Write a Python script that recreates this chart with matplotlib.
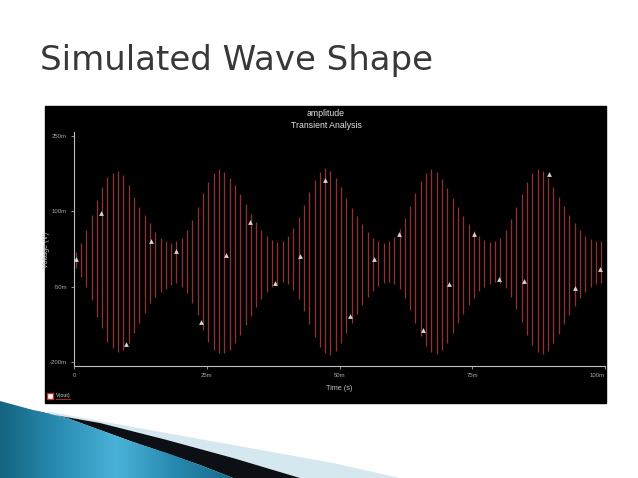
import numpy as np
import matplotlib
matplotlib.use('Agg')
from matplotlib import pyplot as plt
from matplotlib.patches import Polygon, Rectangle
from matplotlib.colors import LinearSegmentedColormap

# per carrier cycle (1 ms), peak and trough of the output voltage, in mV
upper_mv = [20, 36, 63, 93, 123, 149, 169, 177, 181, 172,
            152, 129, 109, 93, 76, 59, 46, 40, 36, 40,
            46, 63, 83, 109, 136, 159, 176, 184, 179, 166,
            152, 134, 114, 95, 78, 62, 50, 42, 38, 41,
            50, 66, 88, 112, 138, 162, 178, 186, 180, 166,
            148, 127, 107, 90, 74, 59, 47, 40, 37, 40,
            48, 64, 86, 110, 136, 160, 177, 184, 179, 165,
            147, 127, 108, 91, 75, 61, 50, 43, 39, 40,
            47, 62, 84, 108, 134, 158, 176, 184, 180, 167,
            149, 129, 110, 92, 76, 62, 51, 44, 40, 41]
lower_mv = [-12, -31, -50, -77, -110, -133, -160, -173, -180, -176,
            -163, -143, -123, -103, -83, -70, -60, -54, -47, -43,
            -50, -63, -83, -107, -136, -160, -176, -183, -183, -176,
            -163, -146, -127, -108, -90, -74, -60, -50, -44, -41,
            -45, -56, -75, -98, -124, -150, -170, -183, -186, -178,
            -162, -143, -123, -104, -87, -71, -58, -48, -42, -40,
            -44, -55, -73, -96, -122, -148, -168, -181, -184, -177,
            -162, -143, -123, -104, -87, -72, -59, -50, -44, -41,
            -43, -53, -71, -94, -120, -146, -167, -180, -184, -178,
            -163, -145, -125, -106, -89, -73, -60, -51, -45, -42]
cycle_ms = np.arange(len(upper_mv)) + 0.3

# trace markers (ms, mV)
marker_ms = [0.3, 5.0, 9.8, 14.5, 19.2, 23.9, 28.6, 33.2, 37.9, 42.5, 47.2,
             51.9, 56.5, 61.2, 65.8, 70.6, 75.3, 80.1, 84.8, 89.5, 94.4, 99.1]
marker_mv = [5, 96, -165, 41, 22, -121, 14, 79, -43, 12, 162,
             -109, 5, 55, -136, -45, 55, -35, -39, 175, -52, -15]

xticks = [0, 25, 50, 75, 100]
xticklabels = ['0', '25m', '50m', '75m', '100m']
yticks = [250, 100, -50, -200]
yticklabels = ['250m', '100m', '-50m', '-200m']

W, H = 638, 478
fig = plt.figure(figsize=(W / 100, H / 100), dpi=100, facecolor='white')

# slide background: title, black panel, swoosh
bg = fig.add_axes([0, 0, 1, 1])
bg.set_xlim(0, W)
bg.set_ylim(H, 0)
bg.axis('off')

bg.text(40, 70, 'Simulated Wave Shape', fontsize=24.5, color='#383838',
        family='DejaVu Sans', ha='left', va='baseline')

bg.add_patch(Rectangle((45, 106), 561, 297, color='black', zorder=1))

light = Polygon([(50, 412), (133, 427), (233, 445), (333, 463), (400, 478),
                 (300, 478), (233, 458), (167, 440), (100, 423), (43, 413)],
                closed=True, color='#d5e7ef', ec='none', zorder=1)
bg.add_patch(light)
dark = Polygon([(43, 413), (100, 423), (167, 440), (233, 458), (300, 478),
                (233, 478), (200, 465), (133, 442), (67, 418), (33, 410)],
               closed=True, color='#0c1014', ec='none', zorder=2)
bg.add_patch(dark)
blue = Polygon([(0, 401), (33, 410), (67, 418), (100, 430), (133, 442),
                (167, 453), (200, 465), (233, 478), (0, 478)],
               closed=True, fc='none', ec='none', zorder=3)
bg.add_patch(blue)
cmap = LinearSegmentedColormap.from_list('sw', ['#146480', '#2a8cb3', '#4ab2d8', '#2889b0', '#186a8a'])
grad = np.tile(np.linspace(0, 1, 256), (20, 1))
im = bg.imshow(grad, extent=(0, 233, 478, 400), cmap=cmap, aspect='auto', zorder=3)
im.set_clip_path(blue)
bg.set_xlim(0, W)
bg.set_ylim(H, 0)

# legend entry
bg.add_patch(Rectangle((47, 393), 6, 6, fc='white', ec='#c03030', lw=1.0, zorder=4))
bg.text(56, 395, 'V(out)', fontsize=3.8, color='#d0d0d0', family='Liberation Sans',
        va='center', ha='left', zorder=4)
bg.plot([56, 70], [398.5, 398.5], color='#a02828', lw=0.7, zorder=4)

bg.text(326, 113, 'amplitude', fontsize=6.3, color='#e0e0e0', family='Liberation Sans',
        ha='center', va='center', zorder=4)
bg.text(326, 125, 'Transient Analysis', fontsize=6.3, color='#e0e0e0',
        family='Liberation Sans', ha='center', va='center', zorder=4)

# chart
ax = fig.add_axes([74 / W, 1 - 366 / H, (605 - 74) / W, (366 - 132) / H])
ax.set_facecolor('black')
ax.vlines(cycle_ms, lower_mv, upper_mv, color='#933030', lw=0.9)
ax.scatter(marker_ms, marker_mv, marker='^', s=12, color='#d4d4d4', lw=0, zorder=3)

ax.set_xlim(0, 100)
ax.set_ylim(-208, 258)
ax.set_xticks(xticks)
ax.set_xticklabels(xticklabels)
ax.set_yticks(yticks)
ax.set_yticklabels(yticklabels)
ax.get_xticklabels()[-1].set_ha('right')
ax.tick_params(colors='#a8a8a8', labelsize=4.3, length=2, width=0.6, pad=3)
for s in ['top', 'right']:
    ax.spines[s].set_visible(False)
for s in ['left', 'bottom']:
    ax.spines[s].set_color('#c0c0c0')
    ax.spines[s].set_linewidth(0.8)
for lab in ax.get_xticklabels() + ax.get_yticklabels():
    lab.set_family('Liberation Sans')

ax.set_ylabel('Voltage (V)', fontsize=5.2, color='#c4c4c4', family='Liberation Sans')
ax.yaxis.set_label_coords(-0.045, 0.496)
ax.set_xlabel('Time (s)', fontsize=5.2, color='#c4c4c4', family='Liberation Sans')
ax.xaxis.set_label_coords(0.5, -0.081)

fig.savefig('out.png', dpi=100, facecolor='white')
